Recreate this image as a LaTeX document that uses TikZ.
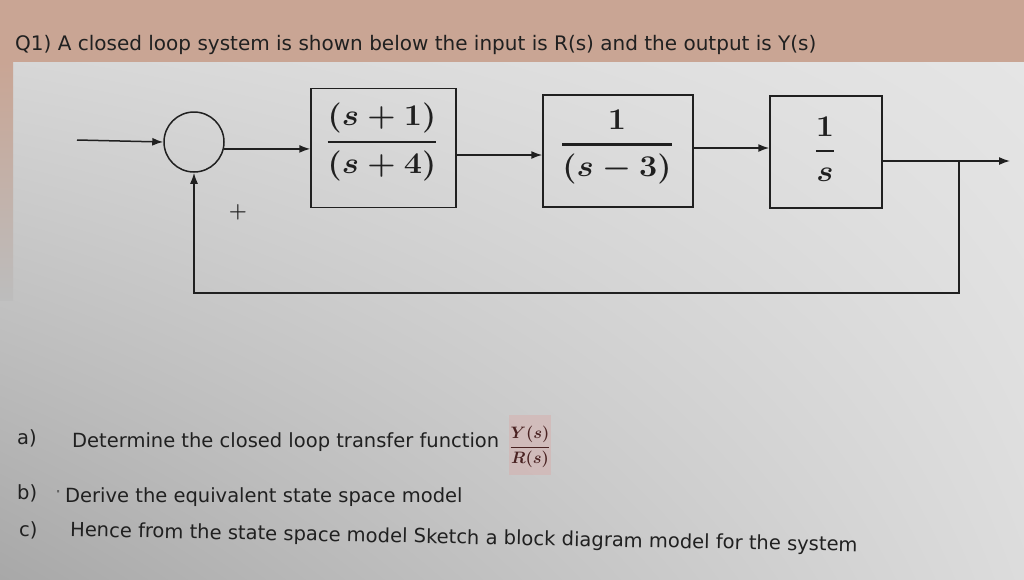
\documentclass[tikz,border=0pt]{standalone}
\usepackage{amsmath}
\usepackage{graphicx}
\usepackage{fontspec}
\setmainfont{DejaVu Sans}
\usetikzlibrary{arrows.meta,calc,shadings}
\definecolor{bandc}{HTML}{C9A594}
\definecolor{bgl}{HTML}{DCDCDC}
\definecolor{bgw}{HTML}{E6E6E6}
\definecolor{bgd}{HTML}{A8A8A8}
\definecolor{ink}{HTML}{202020}
\definecolor{hl}{HTML}{D7AEAC}
\definecolor{fracink}{HTML}{4A2222}
\newcommand{\bigfrac}[2]{\scalebox{1.56}[1.45]{\boldmath$\genfrac{}{}{1.8pt}{0}{#1}{#2}$}}
\begin{document}
\begin{tikzpicture}[x=1pt,y=-1pt,
  wire/.style={draw=ink,line width=1.5pt},
  arr/.style={wire,-{Latex[length=11pt,width=8pt]}},
  blk/.style={draw=ink,line width=1.5pt,rectangle,inner sep=0pt},
  txt/.style={text=ink,font=\fontsize{19.5}{22}\selectfont,anchor=west,inner sep=0pt},
  bmath/.style={font=\fontsize{20}{24}\selectfont,text=ink}]
\useasboundingbox (0,0) rectangle (1024,579);
% background
\shade[lower left=bgd,lower right=bgl,upper left=bgl,upper right=bgw] (0,0) rectangle (1024,579);
\fill[bandc] (0,0) rectangle (1024,62);
\shade[top color=bandc,bottom color=bgd!60!bgl] (0,62) rectangle (13,300);
% title
\node[txt,font=\fontsize{20}{22}\selectfont] (title) at (15,45) {Q1) A closed loop system is shown below the input is R(s) and the output is Y(s)};
% diagram
\node[draw=ink,line width=1.5pt,circle,minimum size=60pt,inner sep=0pt] (sum) at (194,142) {};
\node[blk,minimum width=145pt,minimum height=119pt] (b1) at (383.5,148) {};
\node[bmath] (f1) at (382,142) {\bigfrac{(s+1)}{(s+4)}};
\node[blk,minimum width=150pt,minimum height=112pt] (b2) at (618,151) {};
\node[bmath] (f2) at (617,147) {\bigfrac{1}{(s-3)}};
\node[blk,minimum width=112pt,minimum height=112pt] (b3) at (826,152) {};
\node[bmath] (f3) at (825,149) {\bigfrac{1}{s}};
\node[font=\fontsize{22}{24}\selectfont\boldmath,text=ink] (plus) at (238,212) {$+$};
\coordinate (in) at (77,140);
\coordinate (out) at (1010,161);
\coordinate (j) at (959,161);
\coordinate (fb) at (959,293);
\draw[arr] (in) -- (sum.west);
\draw[arr] (sum.-13) -- (sum.-13 -| b1.west);
\draw[arr] ([yshift=-7pt]b1.east) -- ([yshift=-7pt]b1.east -| b2.west);
\draw[arr] ([yshift=3pt]b2.east) -- ([yshift=3pt]b2.east -| b3.west);
\draw[arr] ([yshift=-9pt]b3.east) -- (out);
\draw[arr] (j) -- (fb) -| (sum.south);
% questions
\node[txt] (qa) at (17,438) {a)};
\node[txt] (ta) at (72,442) {Determine the closed loop transfer function};
\fill[hl,opacity=0.5] (509,415) rectangle (551,475);
\node[font=\fontsize{14}{16}\selectfont\boldmath,text=fracink] (yr) at (530,447) {\scalebox{1.15}{$\dfrac{Y(s)}{R(s)}$}};
\node[txt] (qb) at (17,493) {b)};
\node[txt,text=ink!70] (dot) at (55,494) {·};
\node[txt] (tb) at (65,497) {Derive the equivalent state space model};
\node[txt] (qc) at (19,530) {c)};
\node[txt,rotate=-1.1] (tc) at (70,531) {Hence from the state space model Sketch a block diagram model for the system};
\end{tikzpicture}
\end{document}
